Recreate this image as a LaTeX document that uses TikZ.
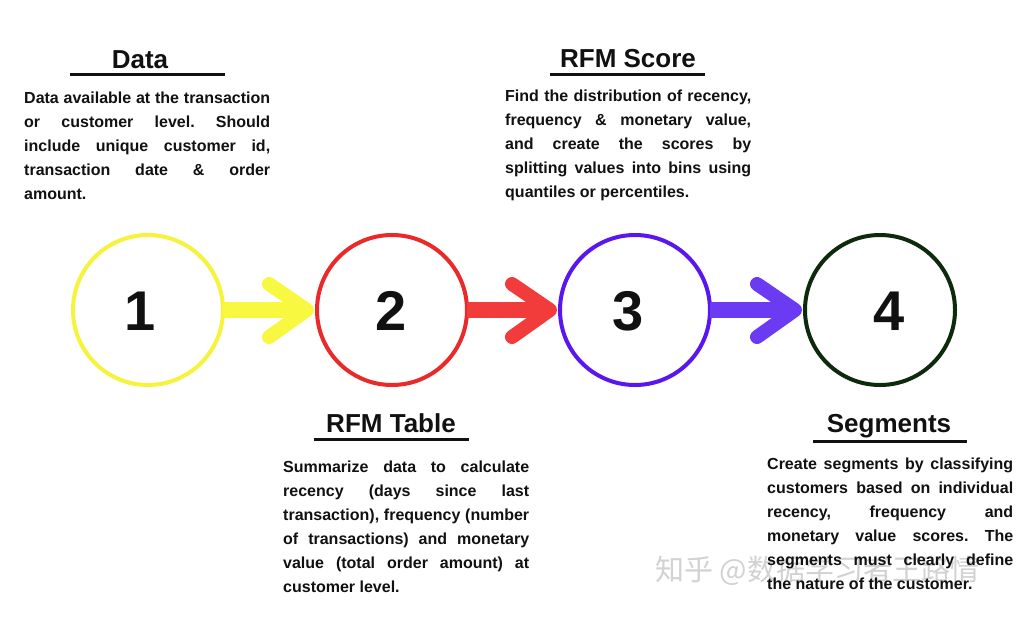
\documentclass[tikz,border=0pt]{standalone}
\usepackage{fontspec}
\setmainfont{Liberation Sans}
\newfontfamily\cjk{Noto Sans CJK SC}
\definecolor{yring}{HTML}{F6F33C}
\definecolor{yarr}{HTML}{F8F840}
\definecolor{rring}{HTML}{EA2A2A}
\definecolor{rarr}{HTML}{F23C3C}
\definecolor{pring}{HTML}{5A16EE}
\definecolor{parr}{HTML}{6B3BF4}
\definecolor{gring}{HTML}{0E2A0C}
\definecolor{ink}{HTML}{111111}
\hyphenpenalty=10000
\exhyphenpenalty=10000
\frenchspacing
\begin{document}
\begin{tikzpicture}[x=1pt,y=-1pt,
  ring/.style={circle, draw, line width=4pt, minimum size=150pt, inner sep=0pt, outer sep=0pt},
  num/.style={font=\fontsize{56}{56}\selectfont\bfseries, anchor=base, inner sep=0pt, text=ink},
  head/.style={font=\fontsize{26}{26}\selectfont\bfseries, anchor=base, inner sep=0pt, text=ink},
  body/.style={font=\fontsize{16}{24}\selectfont\bfseries, text width=246pt, align=justify, inner sep=0pt, anchor=north west, text=ink},
  uline/.style={line width=3pt, draw=ink},
  shaft/.style={line width=16pt},
  chev/.style={line width=14pt, line cap=round, line join=round}
]
\useasboundingbox (0,0) rectangle (1024,616);
\fill[white] (0,0) rectangle (1024,616);

% watermark
\node[anchor=west, inner sep=0pt, text=gray!35, font=\cjk\fontsize{29}{29}\selectfont] (wm) at (655,571) {知乎 @数据学习者王路情};

% rings
\node[ring, draw=yring] (c1) at (148,310) {};
\node[ring, draw=rring] (c2) at (392,310) {};
\node[ring, draw=pring] (c3) at (635,310) {};
\node[ring, draw=gring] (c4) at (880,310) {};

% numbers
\node[num] (n1) at (140,330) {1};
\node[num] (n2) at (391,330) {2};
\node[num] (n3) at (628,330) {3};
\node[num] (n4) at (889,330) {4};

% arrows
\draw[shaft, yarr] (c1.east) -- ([xshift=-12pt]c2.west);
\draw[chev, yarr] ([shift={(-48,-26)}]c2.west) -- ([xshift=-10pt]c2.west) -- ([shift={(-48,27)}]c2.west);
\draw[shaft, rarr] (c2.east) -- ([xshift=-12pt]c3.west);
\draw[chev, rarr] ([shift={(-48,-26)}]c3.west) -- ([xshift=-10pt]c3.west) -- ([shift={(-48,27)}]c3.west);
\draw[shaft, parr] (c3.east) -- ([xshift=-12pt]c4.west);
\draw[chev, parr] ([shift={(-48,-26)}]c4.west) -- ([xshift=-10pt]c4.west) -- ([shift={(-48,27)}]c4.west);

% headings
\node[head] (h1) at (140,68) {Data};
\draw[uline] (70,74) -- (225,74);
\node[head] (h3) at (628,67) {RFM Score};
\draw[uline] (550,74) -- (705,74);
\node[head] (h2) at (391,432) {RFM Table};
\draw[uline] (314,439) -- (469,439);
\node[head] (h4) at (889,432) {Segments};
\draw[uline] (813,441) -- (967,441);

% bodies
\node[body] (t1) at (24,86.2) {\strut Data available at the transaction\linebreak or customer level. Should\linebreak include unique customer id,\linebreak transaction date \& order\linebreak amount.};
\node[body] (t3) at (505,84.2) {\strut Find the distribution of recency,\linebreak frequency \& monetary value,\linebreak and create the scores by\linebreak splitting values into bins using\linebreak quantiles or percentiles.};
\node[body] (t2) at (283,455.2) {\strut Summarize data to calculate\linebreak recency (days since last\linebreak transaction), frequency (number\linebreak of transactions) and monetary\linebreak value (total order amount) at\linebreak customer level.};
\node[body] (t4) at (767,452.2) {\strut Create segments by classifying\linebreak customers based on individual\linebreak recency, frequency and\linebreak monetary value scores. The\linebreak segments must clearly define\linebreak the nature of the customer.};
\end{tikzpicture}
\end{document}
